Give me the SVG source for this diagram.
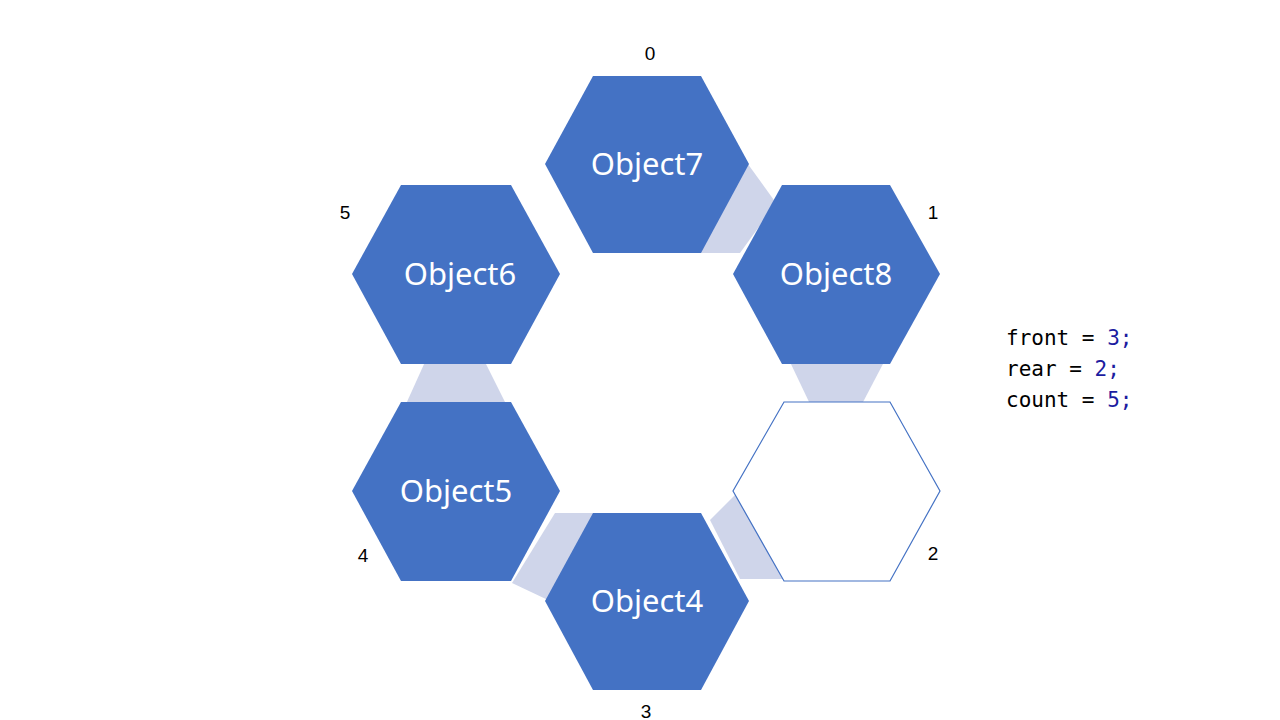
<svg xmlns="http://www.w3.org/2000/svg" width="1280" height="720" viewBox="0 0 1280 720">
<style>
.hex{fill:#4472c4}
.lbl{font-family:"Noto Sans","Open Sans",sans-serif;font-size:31px;fill:#fff;text-anchor:middle}
.idx{font-family:"Liberation Sans",Arial,sans-serif;font-size:19px;fill:#000;text-anchor:middle}
.con{fill:#cfd5ea}
.code{font-family:"DejaVu Sans Mono","Liberation Mono",monospace;font-size:21px;fill:#000}
.n{fill:#1c1ca0}
</style>
<rect width="1280" height="720" fill="#fff"/>
<g id="connectors">
<polygon class="con" points="745,160 776,203 740,253 700,253"/>
<polygon class="con" points="790,362 884,362 862,404 810,404"/>
<polygon class="con" points="425,362 485,362 506,404 406,404"/>
<polygon class="con" points="555,513 595,513 548,600 512,583"/>
<polygon class="con" points="735,495 786,579 740,579 710,520"/>
</g>
<g id="node0"><polygon class="hex" points="593,76 701,76 749,164 701,253 593,253 545,164"/><text class="lbl" x="647" y="175">Object7</text></g>
<g id="node1"><polygon class="hex" points="782,185 890,185 940,274 890,364 782,364 733,274"/><text class="lbl" x="836" y="285">Object8</text></g>
<g id="node5"><polygon class="hex" points="401,185 511,185 560,274 511,364 401,364 352,274"/><text class="lbl" x="460" y="285">Object6</text></g>
<g id="node4"><polygon class="hex" points="401,402 511,402 560,491 511,581 401,581 352,491"/><text class="lbl" x="456" y="502">Object5</text></g>
<g id="node2"><polygon points="784,402 890,402 940,491 890,581 784,581 733,491" fill="#fff" stroke="#4472c4" stroke-width="1.2"/></g>
<g id="node3"><polygon class="hex" points="593,513 701,513 749,601 701,690 593,690 545,601"/><text class="lbl" x="647" y="612">Object4</text></g>
<g id="indices">
<text class="idx" x="650" y="60">0</text>
<text class="idx" x="933" y="219">1</text>
<text class="idx" x="345" y="219">5</text>
<text class="idx" x="363" y="562">4</text>
<text class="idx" x="933" y="560">2</text>
<text class="idx" x="646" y="718">3</text>
</g>
<g id="code">
<text class="code" x="1006" y="345">front = <tspan class="n">3;</tspan></text>
<text class="code" x="1006" y="376">rear = <tspan class="n">2;</tspan></text>
<text class="code" x="1006" y="407">count = <tspan class="n">5;</tspan></text>
</g>
</svg>
